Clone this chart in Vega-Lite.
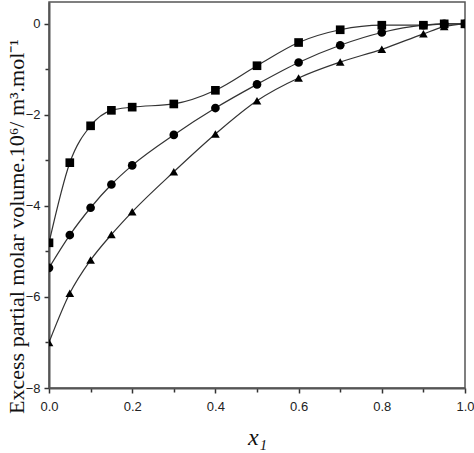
{
  "$schema": "https://vega.github.io/schema/vega-lite/v6.json",
  "width": 416,
  "height": 386,
  "autosize": "none",
  "padding": {"left": 49, "top": 2, "right": 9, "bottom": 65},
  "background": "white",
  "data": {
    "values": [
      {"series": "A", "x": 0.0, "y": -4.81},
      {"series": "A", "x": 0.05, "y": -3.05},
      {"series": "A", "x": 0.1, "y": -2.24},
      {"series": "A", "x": 0.15, "y": -1.9},
      {"series": "A", "x": 0.2, "y": -1.83},
      {"series": "A", "x": 0.3, "y": -1.76},
      {"series": "A", "x": 0.4, "y": -1.46},
      {"series": "A", "x": 0.5, "y": -0.92},
      {"series": "A", "x": 0.6, "y": -0.41},
      {"series": "A", "x": 0.7, "y": -0.13},
      {"series": "A", "x": 0.8, "y": -0.03},
      {"series": "A", "x": 0.9, "y": -0.03},
      {"series": "A", "x": 0.95, "y": 0.0},
      {"series": "A", "x": 1.0, "y": 0.0},
      {"series": "B", "x": 0.0, "y": -5.36},
      {"series": "B", "x": 0.05, "y": -4.64},
      {"series": "B", "x": 0.1, "y": -4.04},
      {"series": "B", "x": 0.15, "y": -3.53},
      {"series": "B", "x": 0.2, "y": -3.11},
      {"series": "B", "x": 0.3, "y": -2.44},
      {"series": "B", "x": 0.4, "y": -1.85},
      {"series": "B", "x": 0.5, "y": -1.33},
      {"series": "B", "x": 0.6, "y": -0.85},
      {"series": "B", "x": 0.7, "y": -0.47},
      {"series": "B", "x": 0.8, "y": -0.19},
      {"series": "B", "x": 0.9, "y": -0.03},
      {"series": "B", "x": 0.95, "y": 0.0},
      {"series": "B", "x": 1.0, "y": 0.0},
      {"series": "C", "x": 0.0, "y": -7.0},
      {"series": "C", "x": 0.05, "y": -5.92},
      {"series": "C", "x": 0.1, "y": -5.19},
      {"series": "C", "x": 0.15, "y": -4.63},
      {"series": "C", "x": 0.2, "y": -4.13},
      {"series": "C", "x": 0.3, "y": -3.25},
      {"series": "C", "x": 0.4, "y": -2.42},
      {"series": "C", "x": 0.5, "y": -1.69},
      {"series": "C", "x": 0.6, "y": -1.19},
      {"series": "C", "x": 0.7, "y": -0.84},
      {"series": "C", "x": 0.8, "y": -0.56},
      {"series": "C", "x": 0.9, "y": -0.22},
      {"series": "C", "x": 0.95, "y": -0.06},
      {"series": "C", "x": 1.0, "y": 0.0}
    ]
  },
  "layer": [
    {
      "mark": {"type": "line", "interpolate": "monotone", "color": "#333", "strokeWidth": 1.2, "clip": true},
      "encoding": {
        "x": {
          "field": "x", "type": "quantitative",
          "scale": {"domain": [0, 1], "nice": false, "zero": false},
          "axis": {"orient": "bottom", "values": [0.1, 0.3, 0.5, 0.7, 0.9], "labels": false, "domain": false, "grid": false, "tickSize": 4, "tickWidth": 1.5, "tickColor": "#333", "title": null}
        },
        "y": {
          "field": "y", "type": "quantitative",
          "scale": {"domain": [-8, 0.48], "nice": false, "zero": false},
          "axis": {"orient": "left", "values": [-7, -5, -3, -1], "labels": false, "domain": false, "grid": false, "tickSize": 4, "tickWidth": 1.5, "tickColor": "#333", "title": null}
        },
        "detail": {"field": "series"}
      }
    },
    {
      "mark": {"type": "point", "filled": true, "color": "black", "opacity": 1, "size": 75, "clip": true},
      "encoding": {
        "x": {
          "field": "x", "type": "quantitative",
          "axis": {
            "orient": "bottom", "values": [0, 0.2, 0.4, 0.6, 0.8, 1.0], "format": ".1f", "grid": false, "labelFlush": false,
            "domainColor": "#555", "domainWidth": 2, "tickColor": "#333", "tickWidth": 1.5, "tickSize": 5,
            "labelFont": "Liberation Sans", "labelFontSize": 13, "labelColor": "#222", "labelPadding": 7,
            "title": "x₁", "titleFont": "Liberation Serif", "titleFontStyle": "italic", "titleFontWeight": "normal",
            "titleFontSize": 24, "titleColor": "#111", "titlePadding": 12
          }
        },
        "y": {
          "field": "y", "type": "quantitative",
          "axis": {
            "orient": "left", "values": [-8, -6, -4, -2, 0], "grid": false, "labelFlush": false,
            "domainColor": "#555", "domainWidth": 2, "tickColor": "#333", "tickWidth": 1.5, "tickSize": 5,
            "labelFont": "Liberation Sans", "labelFontSize": 13, "labelColor": "#222", "labelPadding": 4,
            "title": "Excess partial molar volume.10⁶/ m³.mol⁻¹", "titleFont": "Liberation Serif", "titleFontWeight": "normal",
            "titleFontSize": 22, "titleColor": "#111", "titlePadding": -3, "titleY": 224
          }
        },
        "shape": {
          "field": "series", "type": "nominal",
          "scale": {"domain": ["A", "B", "C"], "range": ["square", "circle", "triangle-up"]},
          "legend": null
        }
      }
    }
  ],
  "resolve": {"axis": {"x": "independent", "y": "independent"}},
  "config": {
    "view": {"stroke": "#555", "strokeWidth": 1.5}
  }
}
